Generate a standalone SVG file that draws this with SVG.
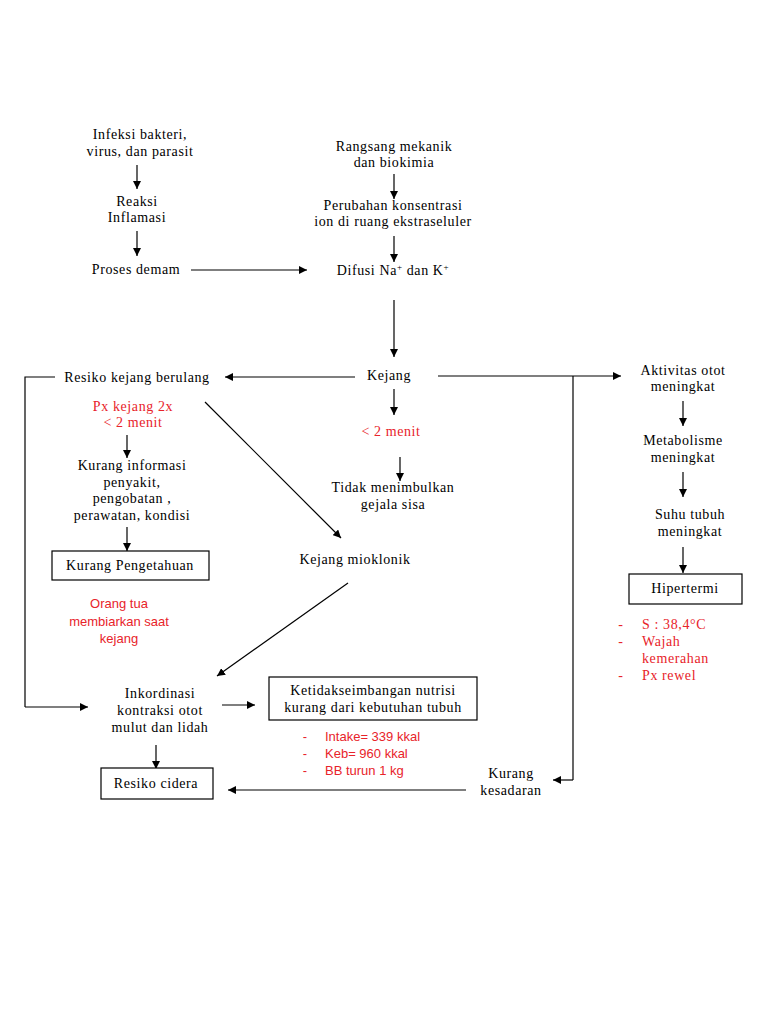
<svg xmlns="http://www.w3.org/2000/svg" width="768" height="1024" viewBox="0 0 768 1024">
<defs>
<marker id="ah" viewBox="0 0 10 10" refX="10" refY="5" markerWidth="8" markerHeight="8" markerUnits="userSpaceOnUse" orient="auto">
<path d="M0,0 L10,5 L0,10 z" fill="#000"/>
</marker>
</defs>
<style>
text{font-family:"Liberation Serif","Times New Roman",serif;font-size:14px;letter-spacing:0.6px;fill:#000;text-anchor:middle}
.r{fill:#e8232a}
.rs{fill:#e8232a;font-family:"Liberation Sans",Arial,sans-serif;font-size:13px;letter-spacing:0}
.l{text-anchor:start}
.box{fill:#fff;stroke:#000;stroke-width:1.2}
.c{stroke:#000;stroke-width:1.2;fill:none}
.a{stroke:#000;stroke-width:1.2;fill:none;marker-end:url(#ah)}
</style>
<rect width="768" height="1024" fill="#fff"/>
<g id="connectors">
<line class="a" x1="137" y1="165" x2="137" y2="189"/>
<line class="a" x1="137" y1="231" x2="137" y2="256"/>
<line class="a" x1="191" y1="270" x2="307" y2="270"/>
<line class="a" x1="394" y1="174" x2="394" y2="199"/>
<line class="a" x1="394" y1="236" x2="394" y2="262"/>
<line class="a" x1="394" y1="300" x2="394" y2="357"/>
<line class="a" x1="355" y1="377" x2="225" y2="377"/>
<polyline class="c" points="55,377 25,377 25,707"/>
<line class="a" x1="25" y1="707" x2="88" y2="707"/>
<line class="a" x1="438" y1="376" x2="621" y2="376"/>
<polyline class="c" points="573,376 573,780"/>
<line class="a" x1="573" y1="780" x2="553" y2="780"/>
<line class="a" x1="466" y1="790" x2="228" y2="790"/>
<line class="a" x1="205" y1="402" x2="341" y2="538"/>
<line class="a" x1="348" y1="583" x2="217" y2="676"/>
<line class="a" x1="127" y1="435" x2="127" y2="458"/>
<line class="a" x1="127" y1="527" x2="127" y2="551"/>
<line class="a" x1="394" y1="389" x2="394" y2="415"/>
<line class="a" x1="400" y1="457" x2="400" y2="481"/>
<line class="a" x1="222" y1="705" x2="255" y2="705"/>
<line class="a" x1="156" y1="745" x2="156" y2="769"/>
<line class="a" x1="683" y1="401" x2="683" y2="426"/>
<line class="a" x1="683" y1="472" x2="683" y2="497"/>
<line class="a" x1="683" y1="547" x2="683" y2="573"/>
</g>
<g id="infeksi"><text x="140" y="139">Infeksi bakteri,</text><text x="140" y="156">virus, dan parasit</text></g>
<g id="reaksi"><text x="137" y="206">Reaksi</text><text x="137" y="222">Inflamasi</text></g>
<g id="proses-demam"><text x="136" y="274">Proses demam</text></g>
<g id="rangsang"><text x="394" y="151">Rangsang mekanik</text><text x="394" y="167">dan biokimia</text></g>
<g id="perubahan"><text x="393" y="210">Perubahan konsentrasi</text><text x="393" y="226">ion di ruang ekstraseluler</text></g>
<g id="difusi"><text x="393" y="275">Difusi Na<tspan font-size="9" dy="-5">+</tspan><tspan dy="5"> dan K</tspan><tspan font-size="9" dy="-5">+</tspan></text></g>
<g id="kejang"><text x="389" y="380">Kejang</text></g>
<g id="resiko-kejang"><text x="137" y="382">Resiko kejang berulang</text></g>
<g id="px-kejang"><text class="r" x="133" y="411">Px kejang 2x</text><text class="r" x="133" y="427">&lt; 2 menit</text></g>
<g id="kurang-informasi"><text x="132" y="470">Kurang informasi</text><text x="132" y="487">penyakit,</text><text x="132" y="503">pengobatan ,</text><text x="132" y="520">perawatan, kondisi</text></g>
<g id="kurang-pengetahuan"><rect class="box" x="52" y="551" width="157" height="29"/><text x="130" y="570">Kurang Pengetahuan</text></g>
<g id="orang-tua"><text class="rs" x="119" y="608">Orang tua</text><text class="rs" x="119" y="626">membiarkan saat</text><text class="rs" x="119" y="643">kejang</text></g>
<g id="kurang-2-menit"><text class="r" x="391" y="436">&lt; 2 menit</text></g>
<g id="tidak-menimbulkan"><text x="393" y="492">Tidak menimbulkan</text><text x="393" y="509">gejala sisa</text></g>
<g id="kejang-mioklonik"><text x="355" y="564">Kejang mioklonik</text></g>
<g id="inkordinasi"><text x="160" y="698">Inkordinasi</text><text x="160" y="715">kontraksi otot</text><text x="160" y="732">mulut dan lidah</text></g>
<g id="ketidakseimbangan"><rect class="box" x="269" y="677" width="208" height="43"/><text x="373" y="695">Ketidakseimbangan nutrisi</text><text x="373" y="712">kurang dari kebutuhan tubuh</text></g>
<g id="nutrisi-data">
<text class="rs" x="305" y="741">-</text><text class="rs l" x="325" y="741">Intake= 339 kkal</text>
<text class="rs" x="305" y="758">-</text><text class="rs l" x="325" y="758">Keb= 960 kkal</text>
<text class="rs" x="305" y="775">-</text><text class="rs l" x="325" y="775">BB turun 1 kg</text>
</g>
<g id="resiko-cidera"><rect class="box" x="101" y="768" width="112" height="31"/><text x="156" y="788">Resiko cidera</text></g>
<g id="kurang-kesadaran"><text x="511" y="778">Kurang</text><text x="511" y="795">kesadaran</text></g>
<g id="aktivitas"><text x="683" y="375">Aktivitas otot</text><text x="683" y="391">meningkat</text></g>
<g id="metabolisme"><text x="683" y="445">Metabolisme</text><text x="683" y="462">meningkat</text></g>
<g id="suhu"><text x="690" y="519">Suhu tubuh</text><text x="690" y="536">meningkat</text></g>
<g id="hipertermi"><rect class="box" x="629" y="574" width="113" height="30"/><text x="685" y="593">Hipertermi</text></g>
<g id="hipertermi-data">
<text class="r" x="621" y="629">-</text><text class="r l" x="642" y="629">S : 38,4°C</text>
<text class="r" x="621" y="646">-</text><text class="r l" x="642" y="646">Wajah</text>
<text class="r l" x="642" y="663">kemerahan</text>
<text class="r" x="621" y="680">-</text><text class="r l" x="642" y="680">Px rewel</text>
</g>
</svg>
